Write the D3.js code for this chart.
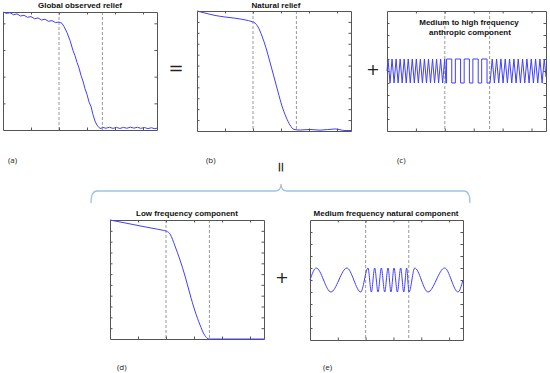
<!DOCTYPE html>
<html>
<head>
<meta charset="utf-8">
<script src="https://cdn.jsdelivr.net/npm/d3@7"></script>
<style>
    body { margin: 0; background: #fff; }
    svg { display: block; }
</style>
</head>
<body>
<div id="chart"></div>
<script>
"use strict"

// distance along the profile, shared by all panels
const xDomain = [0, 11];
const xTicks = [2, 4, 6, 8, 10];
const dashX = [4, 7.1];

// relief panels (elevation in % of range)
const reliefTicks = [9.1, 18.2, 27.3, 36.4, 45.5, 54.5, 63.6, 72.7, 81.8, 90.9];
const globalTicks = [22.6, 45.2, 67.8, 90.4];
const waveTicks = [-0.8, -0.6, -0.4, -0.2, 0, 0.2, 0.4, 0.6, 0.8];

const globalRelief = [
    [0, 100], [0.25, 98.8], [0.5, 99.4], [0.75, 97.7], [1, 98.4], [1.25, 96.6], [1.5, 97.2],
    [1.75, 95.5], [2, 96.1], [2.25, 94.3], [2.5, 95.0], [2.75, 93.2], [3, 93.9], [3.25, 92.1],
    [3.5, 92.7], [3.75, 91.0], [4.0, 91.5], [4.21, 90.4], [4.36, 87.6], [4.57, 82.6], [4.79, 75.8],
    [5.0, 67.3], [5.14, 63.1], [5.29, 57.2], [5.43, 52.6], [5.57, 46.3], [5.71, 41.5], [5.86, 34.9],
    [6.0, 30.2], [6.14, 23.9], [6.29, 19.8], [6.43, 13.0], [6.57, 7.6], [6.71, 4.2], [6.86, 2.0],
    [7.0, 1.2], [7.1, 2.3], [7.35, 1.5], [7.6, 2.3], [7.85, 1.4], [8.1, 2.2], [8.35, 1.3],
    [8.6, 2.2], [8.85, 1.5], [9.1, 2.4], [9.35, 1.6], [9.6, 2.3], [9.85, 1.4], [10.1, 2.1],
    [10.35, 1.2], [10.6, 1.9], [10.85, 1.1], [11, 1.6]
];

const naturalRelief = [
    [0, 100], [0.57, 98.3], [1.29, 96.3], [2.0, 95.0], [2.71, 94.0], [3.43, 92.6], [3.93, 91.1],
    [4.14, 90.0], [4.36, 86.7], [4.64, 79.2], [4.93, 69.2], [5.21, 57.5], [5.5, 45.0], [5.79, 32.5],
    [6.07, 20.8], [6.36, 11.7], [6.64, 5.0], [6.93, 1.3], [7.36, 0.8], [8.07, 1.3], [8.79, 0.7],
    [9.86, 1.7], [10.57, 0.4], [11, 0.4]
];

const lowFrequency = [
    [0, 100], [1.0, 97.7], [2.0, 95.4], [3.0, 93.1], [3.8, 91.3], [4.05, 90.5], [4.29, 88.2],
    [4.64, 78.2], [5.0, 66.4], [5.36, 52.9], [5.71, 37.8], [6.07, 23.5], [6.43, 11.8], [6.71, 4.2],
    [6.93, 0.8], [7.07, 0], [11, 0]
];

// anthropic component: zigzag / square pulses / zigzag
const anthropicLeft = [
    [0, 0], [0.07, 0.2], [0.21, -0.2], [0.35, 0.2], [0.49, -0.2], [0.63, 0.2], [0.77, -0.2],
    [0.91, 0.2], [1.05, -0.2], [1.19, 0.2], [1.33, -0.2], [1.47, 0.2], [1.61, -0.2], [1.75, 0.2],
    [1.89, -0.2], [2.03, 0.2], [2.17, -0.2], [2.31, 0.2], [2.45, -0.2], [2.59, 0.2], [2.73, -0.2],
    [2.87, 0.2], [3.01, -0.2], [3.15, 0.2], [3.29, -0.2], [3.43, 0.2], [3.57, -0.2], [3.71, 0.2],
    [3.85, -0.2], [3.99, 0.2], [4.08, -0.2]
];
const anthropicPulses = [
    [4.08, -0.2], [4.12, 0.2], [4.48, -0.2], [4.73, 0.2], [5.09, -0.2], [5.34, 0.2], [5.70, -0.2],
    [5.94, 0.2], [6.31, -0.2], [6.55, 0.2], [6.92, -0.2], [7.13, -0.2]
];
const anthropicRight = [
    [7.13, -0.2], [7.28, 0.2], [7.43, -0.2], [7.58, 0.2], [7.73, -0.2], [7.88, 0.2], [8.03, -0.2],
    [8.18, 0.2], [8.33, -0.2], [8.48, 0.2], [8.63, -0.2], [8.78, 0.2], [8.93, -0.2], [9.08, 0.2],
    [9.23, -0.2], [9.38, 0.2], [9.53, -0.2], [9.68, 0.2], [9.83, -0.2], [9.98, 0.2], [10.13, -0.2],
    [10.28, 0.2], [10.43, -0.2], [10.58, 0.2], [10.73, -0.2], [10.88, 0.2], [11, -0.1]
];

// medium frequency natural component (extrema)
const mediumNatural = [
    [0, 0], [0.45, 0.2], [1.5, -0.2], [2.65, 0.2], [3.65, -0.2], [4.17, 0.2], [4.41, -0.2],
    [4.65, 0.2], [4.89, -0.2], [5.13, 0.2], [5.37, -0.2], [5.61, 0.2], [5.82, -0.2], [6.04, 0.2],
    [6.28, -0.2], [6.52, 0.2], [6.74, -0.2], [6.95, 0.2], [7.12, -0.2], [7.53, 0.2], [8.48, -0.2],
    [9.68, 0.2], [10.64, -0.2], [11, 0]
];

const panelLabels = ["(a)", "(b)", "(c)", "(d)", "(e)"];

const lineColor = "#4040ff";
const frameColor = "#555";

let svg = d3.select("#chart").append("svg")
    .attr("width", 550)
    .attr("height", 373);

/* draw one framed panel and return its scales */
function drawPanel(box, yDomain, yTicks) {
    let x = d3.scaleLinear().domain(xDomain).range([box.x0, box.x1]);
    let y = d3.scaleLinear().domain(yDomain).range([box.y1, box.y0]);

    let g = svg.append("g");

    for (let d of dashX) {
        g.append("line")
            .attr("x1", x(d))
            .attr("x2", x(d))
            .attr("y1", box.y0)
            .attr("y2", box.y1)
            .style("stroke", "#999")
            .style("stroke-width", "1px")
            .style("stroke-dasharray", "3,2");
    }

    let axes = [
        [d3.axisBottom(x).tickValues(xTicks), `translate(0,${box.y1})`],
        [d3.axisTop(x).tickValues(xTicks), `translate(0,${box.y0})`],
        [d3.axisLeft(y).tickValues(yTicks), `translate(${box.x0},0)`],
        [d3.axisRight(y).tickValues(yTicks), `translate(${box.x1},0)`]
    ];
    for (let [axis, tr] of axes) {
        let a = g.append("g")
            .attr("transform", tr)
            .call(axis.tickSize(-2.5).tickSizeOuter(0).tickFormat(""));
        a.selectAll("path, line").style("stroke", frameColor).style("stroke-width", "1px");
    }

    return { x, y, g };
}

function drawLine(p, data, curve) {
    let lineFunc = d3.line()
        .x(function(d) { return p.x(d[0]); })
        .y(function(d) { return p.y(d[1]); })
        .curve(curve);

    p.g.append("path")
        .attr("d", lineFunc(data))
        .style("stroke", lineColor)
        .style("stroke-width", "1px")
        .style("fill", "none");
}

function title(txt, x, y) {
    svg.append("text")
        .attr("x", x)
        .attr("y", y)
        .attr("text-anchor", "middle")
        .style("font-family", "Liberation Sans, Arial, sans-serif")
        .style("font-weight", "bold")
        .style("font-size", "8px")
        .style("fill", "#111")
        .text(txt);
}

function symbol(txt, x, y, size, rotate) {
    svg.append("text")
        .attr("transform", `translate(${x},${y}) rotate(${rotate || 0})`)
        .attr("text-anchor", "middle")
        .attr("dominant-baseline", "central")
        .style("font-family", "DejaVu Sans, sans-serif")
        .style("font-size", size + "px")
        .style("fill", "#222")
        .text(txt);
}

// (a) global observed relief
let pa = drawPanel({ x0: 3, x1: 157, y0: 12, y1: 130 }, [0, 100], globalTicks);
drawLine(pa, globalRelief, d3.curveLinear);
title("Global observed relief", 80, 8);

// (b) natural relief
let pb = drawPanel({ x0: 197, x1: 351, y0: 11, y1: 131 }, [0, 100], reliefTicks);
drawLine(pb, naturalRelief, d3.curveMonotoneX);
title("Natural relief", 276, 8);

// (c) anthropic component
let pc = drawPanel({ x0: 387, x1: 546, y0: 11, y1: 131 }, [-1, 1], waveTicks);
drawLine(pc, anthropicLeft, d3.curveLinear);
drawLine(pc, anthropicPulses, d3.curveStepAfter);
drawLine(pc, anthropicRight, d3.curveLinear);
title("Medium to high frequency", 469, 25);
title("anthropic component", 470, 35);

// (d) low frequency component
let pd = drawPanel({ x0: 110, x1: 264, y0: 220, y1: 339 }, [0, 100], reliefTicks);
drawLine(pd, lowFrequency, d3.curveMonotoneX);
title("Low frequency component", 187, 216);

// (e) medium frequency natural component
let pe = drawPanel({ x0: 310, x1: 463, y0: 220, y1: 340 }, [-1, 1], waveTicks);
drawLine(pe, mediumNatural, d3.curveMonotoneX);
title("Medium frequency natural component", 386, 216);

// operators
symbol("=", 176, 67.5, 18);
symbol("+", 373, 69, 16);
symbol("+", 282, 277, 16);
symbol("=", 281, 167, 14, 90);

// brace grouping (d) and (e)
svg.append("path")
    .attr("d", "M91,203 Q91,191 97,191 L275,191 Q281,191 281,184 Q281,191 287,191 L464,191 Q470,191 470,203")
    .style("fill", "none")
    .style("stroke", "#9dc3e6")
    .style("stroke-width", "1.3px");

// panel labels
let labelPos = [[8, 163], [206, 163], [397, 163], [117, 370], [323, 370]];
panelLabels.forEach(function(l, i) {
    svg.append("text")
        .attr("x", labelPos[i][0])
        .attr("y", labelPos[i][1])
        .style("font-family", "Open Sans, sans-serif")
        .style("font-size", "8px")
        .style("fill", "#222")
        .text(l);
});
</script>
</body>
</html>
